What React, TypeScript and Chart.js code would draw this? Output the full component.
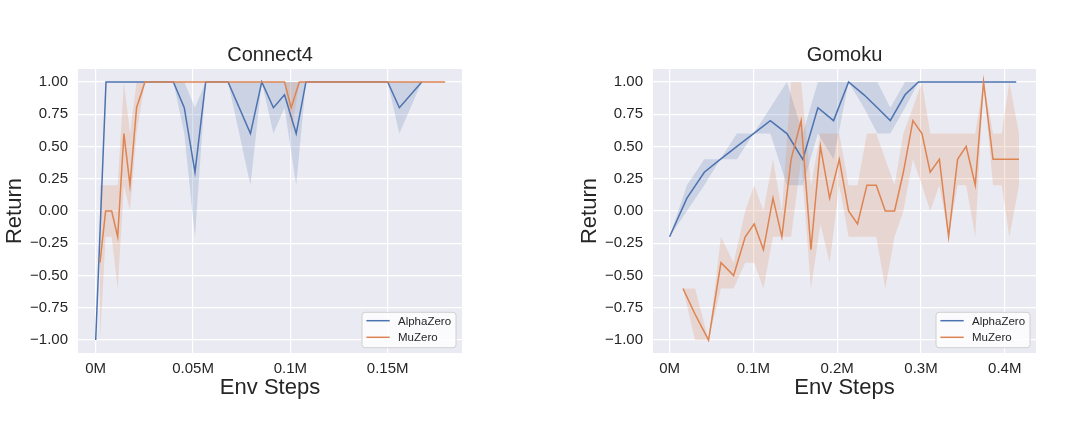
import React, { useEffect, useRef } from 'react';
import { Chart, registerables } from 'chart.js';

Chart.register(...registerables);

// ---------------- data ----------------
const seriesNames = ['AlphaZero', 'MuZero'];

// Connect4 (x in millions of env steps)
const c4AlphaSteps = [0, 0.0053, 0.0399, 0.0455, 0.051, 0.0565, 0.068, 0.0795, 0.0853, 0.0913, 0.097, 0.103, 0.108, 0.150, 0.156, 0.1675];
const c4AlphaMean = [-1.0, 1.0, 1.0, 0.8, 0.3, 1.0, 1.0, 0.6, 1.0, 0.8, 0.9, 0.6, 1.0, 1.0, 0.8, 1.0];
const c4AlphaLow = [-1.0, 1.0, 1.0, 0.6, -0.2, 1.0, 1.0, 0.2, 1.0, 0.6, 0.8, 0.2, 1.0, 1.0, 0.6, 1.0];
const c4AlphaHigh = [-1.0, 1.0, 1.0, 1.0, 0.8, 1.0, 1.0, 1.0, 1.0, 1.0, 1.0, 1.0, 1.0, 1.0, 1.0, 1.0];

const c4MuSteps = [0.0022, 0.0051, 0.0082, 0.0113, 0.0145, 0.0176, 0.021, 0.0253, 0.097, 0.1004, 0.1046, 0.1795];
const c4MuMean = [-0.4, 0.0, 0.0, -0.2, 0.6, 0.2, 0.8, 1.0, 1.0, 0.8, 1.0, 1.0];
const c4MuLow = [-1.0, -0.2, -0.2, -0.6, 0.2, 0.0, 0.6, 1.0, 1.0, 0.6, 1.0, 1.0];
const c4MuHigh = [0.2, 0.2, 0.2, 0.2, 1.0, 0.6, 1.0, 1.0, 1.0, 1.0, 1.0, 1.0];

// Gomoku
const goAlphaSteps = [0, 0.0207, 0.0414, 0.0605, 0.0804, 0.1002, 0.1202, 0.14, 0.159, 0.177, 0.1957, 0.2136, 0.232, 0.248, 0.2634, 0.281, 0.297, 0.4137];
const goAlphaMean = [-0.2, 0.1, 0.3, 0.4, 0.5, 0.6, 0.7, 0.6, 0.4, 0.8, 0.7, 1.0, 0.9, 0.8, 0.7, 0.9, 1.0, 1.0];
const goAlphaLow = [-0.2, 0.0, 0.2, 0.4, 0.4, 0.6, 0.6, 0.2, 0.2, 0.6, 0.4, 1.0, 0.8, 0.6, 0.6, 0.8, 1.0, 1.0];
const goAlphaHigh = [-0.2, 0.2, 0.4, 0.4, 0.6, 0.6, 0.8, 1.0, 0.6, 1.0, 1.0, 1.0, 1.0, 1.0, 0.8, 1.0, 1.0, 1.0];

const goMuSteps = [0.016, 0.0304, 0.0465, 0.0613, 0.0764, 0.0903, 0.101, 0.112, 0.1234, 0.134, 0.145, 0.157, 0.1687, 0.18, 0.191, 0.2025, 0.2136, 0.2243, 0.2355, 0.2467, 0.2574, 0.2685, 0.279, 0.2904, 0.3012, 0.311, 0.322, 0.333, 0.3437, 0.354, 0.3648, 0.3747, 0.386, 0.3964, 0.4055, 0.417];
const goMuMean = [-0.6, -0.8, -1.0, -0.4, -0.5, -0.2, -0.1, -0.3, 0.1, -0.2, 0.4, 0.7, -0.3, 0.5, 0.1, 0.4, 0.0, -0.1, 0.2, 0.2, 0.0, 0.0, 0.3, 0.7, 0.6, 0.3, 0.4, -0.2, 0.4, 0.5, 0.2, 1.0, 0.4, 0.4, 0.4, 0.4];
const goMuLow = [-0.6, -1.0, -1.0, -0.6, -0.6, -0.4, -0.4, -0.6, -0.2, -0.2, -0.2, 0.4, -0.6, -0.1, -0.4, 0.2, -0.2, -0.2, -0.2, -0.2, -0.6, -0.2, 0.0, 0.4, 0.2, 0.0, 0.2, -0.2, 0.2, 0.2, -0.2, 1.0, 0.2, 0.2, -0.2, 0.2];
const goMuHigh = [-0.6, -0.6, -1.0, -0.2, -0.4, 0.0, 0.2, 0.0, 0.4, 0.0, 1.0, 1.0, 0.2, 0.6, 0.6, 0.6, 0.2, 0.2, 0.6, 0.6, 0.4, 0.2, 0.6, 0.8, 1.0, 0.6, 0.6, 0.6, 0.6, 0.6, 0.6, 1.0, 0.6, 0.6, 1.0, 0.6];

const yTickValues = [-1.0, -0.75, -0.5, -0.25, 0.0, 0.25, 0.5, 0.75, 1.0];
const c4XTickValues = [0, 0.05, 0.1, 0.15];
const goXTickValues = [0, 0.1, 0.2, 0.3, 0.4];

// ---------------- styling ----------------
const FONT = '"Liberation Sans", Arial, Helvetica, sans-serif';
const TEXT = '#262626';
const BLUE = '#4C72B0';
const ORANGE = '#DD8452';
const BLUE_BAND = 'rgba(76,114,176,0.2)';
const ORANGE_BAND = 'rgba(221,132,82,0.2)';
const PANEL_BG = '#EAEAF2';

const pts = (xs: number[], ys: number[]) => xs.map((x, i) => ({ x, y: ys[i] }));

const bgPlugin = {
  id: 'panelBg',
  beforeDraw(chart: any) {
    const { ctx, chartArea } = chart;
    ctx.save();
    ctx.fillStyle = PANEL_BG;
    ctx.fillRect(chartArea.left, chartArea.top, chartArea.right - chartArea.left, chartArea.bottom - chartArea.top);
    ctx.restore();
  },
};

const legendPlugin = {
  id: 'innerLegend',
  afterDatasetsDraw(chart: any) {
    const { ctx, chartArea } = chart;
    const w = 94;
    const h = 35.4;
    const x = chartArea.right - 6 - w;
    const y = chartArea.bottom - 5.3 - h;
    ctx.save();
    ctx.beginPath();
    const r = 3;
    ctx.moveTo(x + r, y);
    ctx.lineTo(x + w - r, y);
    ctx.arcTo(x + w, y, x + w, y + r, r);
    ctx.lineTo(x + w, y + h - r);
    ctx.arcTo(x + w, y + h, x + w - r, y + h, r);
    ctx.lineTo(x + r, y + h);
    ctx.arcTo(x, y + h, x, y + h - r, r);
    ctx.lineTo(x, y + r);
    ctx.arcTo(x, y, x + r, y, r);
    ctx.closePath();
    ctx.fillStyle = 'rgba(255,255,255,0.8)';
    ctx.fill();
    ctx.strokeStyle = '#d0d0d0';
    ctx.lineWidth = 1;
    ctx.stroke();
    const colors = [BLUE, ORANGE];
    seriesNames.forEach((name, i) => {
      const ly = y + 8.4 + i * 16.6;
      ctx.beginPath();
      ctx.moveTo(x + 4.4, ly);
      ctx.lineTo(x + 27.7, ly);
      ctx.strokeStyle = colors[i];
      ctx.lineWidth = 1.5;
      ctx.stroke();
      ctx.fillStyle = TEXT;
      ctx.font = `11.5px ${FONT}`;
      ctx.textBaseline = 'middle';
      ctx.textAlign = 'left';
      ctx.fillText(name, x + 36, ly + 1);
    });
    ctx.restore();
  },
};

function makeConfig(
  title: string,
  alpha: { s: number[]; m: number[]; lo: number[]; hi: number[] },
  mu: { s: number[]; m: number[]; lo: number[]; hi: number[] },
  xMin: number,
  xMax: number,
  xTicks: number[],
  padRight: number
): any {
  const band = (data: any, color: string, fill: any, order: number) => ({
    data,
    borderWidth: 0,
    borderColor: 'rgba(0,0,0,0)',
    backgroundColor: color,
    pointRadius: 0,
    fill,
    order,
    tension: 0,
  });
  return {
    type: 'line',
    data: {
      datasets: [
        band(pts(alpha.s, alpha.lo), BLUE_BAND, false, 5),
        band(pts(alpha.s, alpha.hi), BLUE_BAND, '-1', 4),
        band(pts(mu.s, mu.lo), ORANGE_BAND, false, 3),
        band(pts(mu.s, mu.hi), ORANGE_BAND, '-1', 2),
        {
          label: seriesNames[0],
          data: pts(alpha.s, alpha.m),
          borderColor: BLUE,
          borderWidth: 1.5,
          pointRadius: 0,
          fill: false,
          order: 1,
          tension: 0,
        },
        {
          label: seriesNames[1],
          data: pts(mu.s, mu.m),
          borderColor: ORANGE,
          borderWidth: 1.5,
          pointRadius: 0,
          fill: false,
          order: 0,
          tension: 0,
        },
      ],
    },
    options: {
      animation: false,
      responsive: false,
      maintainAspectRatio: false,
      layout: { padding: { left: 0, right: padRight, top: 0, bottom: 0 } },
      plugins: {
        legend: { display: false },
        tooltip: { enabled: false },
        title: {
          display: true,
          text: title,
          color: TEXT,
          fullSize: false,
          font: { family: FONT, size: 20, weight: 'normal' },
          padding: { top: 43.4, bottom: 1.6 },
        },
      },
      scales: {
        x: {
          type: 'linear',
          min: xMin,
          max: xMax,
          afterBuildTicks: (scale: any) => {
            scale.ticks = xTicks.map((v) => ({ value: v }));
          },
          afterFit: (scale: any) => {
            scale.height = 90;
          },
          ticks: {
            color: TEXT,
            font: { family: FONT, size: 15 },
            padding: 7,
            maxRotation: 0,
            autoSkip: false,
            callback: (v: number) => `${v}M`,
          },
          grid: { color: '#ffffff', lineWidth: 1.2, drawTicks: false },
          border: { display: false },
          title: {
            display: true,
            text: 'Env Steps',
            color: TEXT,
            font: { family: FONT, size: 22 },
            padding: { top: 0, bottom: 42 },
          },
        },
        y: {
          type: 'linear',
          position: 'left',
          min: -1.1,
          max: 1.1,
          afterBuildTicks: (scale: any) => {
            scale.ticks = yTickValues.map((v) => ({ value: v }));
          },
          afterFit: (scale: any) => {
            scale.width = 78;
          },
          ticks: {
            color: TEXT,
            font: { family: FONT, size: 15 },
            padding: 10,
            autoSkip: false,
            callback: (v: number) => (v < 0 ? '\u2212' + Math.abs(v).toFixed(2) : v.toFixed(2)),
          },
          grid: { color: '#ffffff', lineWidth: 1.2, drawTicks: false },
          border: { display: false },
          title: {
            display: true,
            text: 'Return',
            color: TEXT,
            font: { family: FONT, size: 22 },
            padding: { top: 2, bottom: 0 },
          },
        },
      },
    },
    plugins: [bgPlugin, legendPlugin],
  };
}

function Panel(props: { config: any; left: number; width: number }) {
  const ref = useRef<HTMLCanvasElement | null>(null);
  useEffect(() => {
    if (!ref.current) return;
    const chart = new Chart(ref.current, props.config);
    return () => chart.destroy();
  }, []);
  return (
    <canvas
      ref={ref}
      width={props.width}
      height={443}
      style={{ position: 'absolute', left: props.left, top: 0, width: props.width, height: 443 }}
    />
  );
}

export default function App() {
  const c4 = makeConfig(
    'Connect4',
    { s: c4AlphaSteps, m: c4AlphaMean, lo: c4AlphaLow, hi: c4AlphaHigh },
    { s: c4MuSteps, m: c4MuMean, lo: c4MuLow, hi: c4MuHigh },
    -0.00909,
    0.18817,
    c4XTickValues,
    78
  );
  const go = makeConfig(
    'Gomoku',
    { s: goAlphaSteps, m: goAlphaMean, lo: goAlphaLow, hi: goAlphaHigh },
    { s: goMuSteps, m: goMuMean, lo: goMuLow, hi: goMuHigh },
    -0.0198,
    0.4373,
    goXTickValues,
    44
  );
  return (
    <div style={{ position: 'fixed', left: 0, top: 0, width: 1080, height: 443, background: '#ffffff', overflow: 'hidden' }}>
      <Panel config={c4} left={0} width={540} />
      <Panel config={go} left={575} width={505} />
    </div>
  );
}
